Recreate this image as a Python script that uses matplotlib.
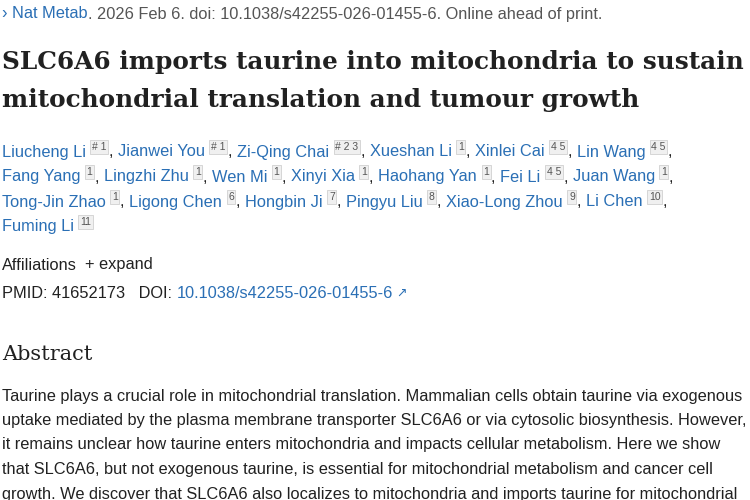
import matplotlib
matplotlib.use("Agg")
import matplotlib.pyplot as plt

W, H = 750, 500
BLUE = "#2a6fb5"
GRAY = "#555555"
DARK = "#212121"

journal_line = [("› ", BLUE), ("Nat Metab", BLUE), (". 2026 Feb 6. doi: 10.1038/s42255-026-01455-6. Online ahead of print.", GRAY)]
title_lines = ["SLC6A6 imports taurine into mitochondria to sustain",
               "mitochondrial translation and tumour growth"]
author_lines = [
    [("Liucheng Li", "# 1"), ("Jianwei You", "# 1"), ("Zi-Qing Chai", "# 2 3"),
     ("Xueshan Li", "1"), ("Xinlei Cai", "4 5"), ("Lin Wang", "4 5")],
    [("Fang Yang", "1"), ("Lingzhi Zhu", "1"), ("Wen Mi", "1"), ("Xinyi Xia", "1"),
     ("Haohang Yan", "1"), ("Fei Li", "4 5"), ("Juan Wang", "1")],
    [("Tong-Jin Zhao", "1"), ("Ligong Chen", "6"), ("Hongbin Ji", "7"),
     ("Pingyu Liu", "8"), ("Xiao-Long Zhou", "9"), ("Li Chen", "10")],
    [("Fuming Li", "11")],
]
abstract_lines = [
    "Taurine plays a crucial role in mitochondrial translation. Mammalian cells obtain taurine via exogenous",
    "uptake mediated by the plasma membrane transporter SLC6A6 or via cytosolic biosynthesis. However,",
    "it remains unclear how taurine enters mitochondria and impacts cellular metabolism. Here we show",
    "that SLC6A6, but not exogenous taurine, is essential for mitochondrial metabolism and cancer cell",
    "growth. We discover that SLC6A6 also localizes to mitochondria and imports taurine for mitochondrial",
]

fig = plt.figure(figsize=(7.5, 5), dpi=100)
fig.patch.set_facecolor("white")
r = fig.canvas.get_renderer()


def put(x, y, s, **kw):
    t = fig.text(x / W, 1 - y / H, s, va="center", ha="left", **kw)
    bb = t.get_window_extent(renderer=r)
    return x + bb.width


BODY = dict(fontsize=11.8, family="Liberation Sans")

# journal line
x = 2
for s, c in journal_line:
    x = put(x, 14, s, color=c, **BODY)

# title
for i, line in enumerate(title_lines):
    put(2, 62 + 38 * i, line, color=DARK, fontsize=17.8, family="DejaVu Serif", weight="bold")

# authors
for i, line in enumerate(author_lines):
    y = 152 + 25 * i
    x = 2
    for j, (name, sup) in enumerate(line):
        x = put(x, y, name, color=BLUE, **BODY) + 6
        x = put(x, y - 5, sup, color=GRAY, fontsize=7.5, family="Liberation Sans",
                bbox=dict(boxstyle="square,pad=0.15", fc="#f0f0f0", ec="#d0d0d0", lw=0.6)) + 2
        if j < len(line) - 1 or i < len(author_lines) - 1:
            x = put(x, y, ",", color=DARK, **BODY) + 5

# affiliations / pmid
x = put(2, 265, "Affiliations", color=DARK, **BODY)
put(x + 8, 265, "+ expand", color=DARK, **BODY)
x = put(2, 293, "PMID: 41652173   DOI: ", color=DARK, **BODY)
x = put(x, 293, "10.1038/s42255-026-01455-6", color=BLUE, **BODY)
put(x + 3, 293, "↗", color=BLUE, fontsize=9, family="DejaVu Sans")

put(2, 355, "Abstract", color=DARK, fontsize=15, family="DejaVu Serif")
for i, line in enumerate(abstract_lines):
    put(2, 396 + 24.5 * i, line, color=DARK, **BODY)

fig.savefig("out.png", dpi=100)
